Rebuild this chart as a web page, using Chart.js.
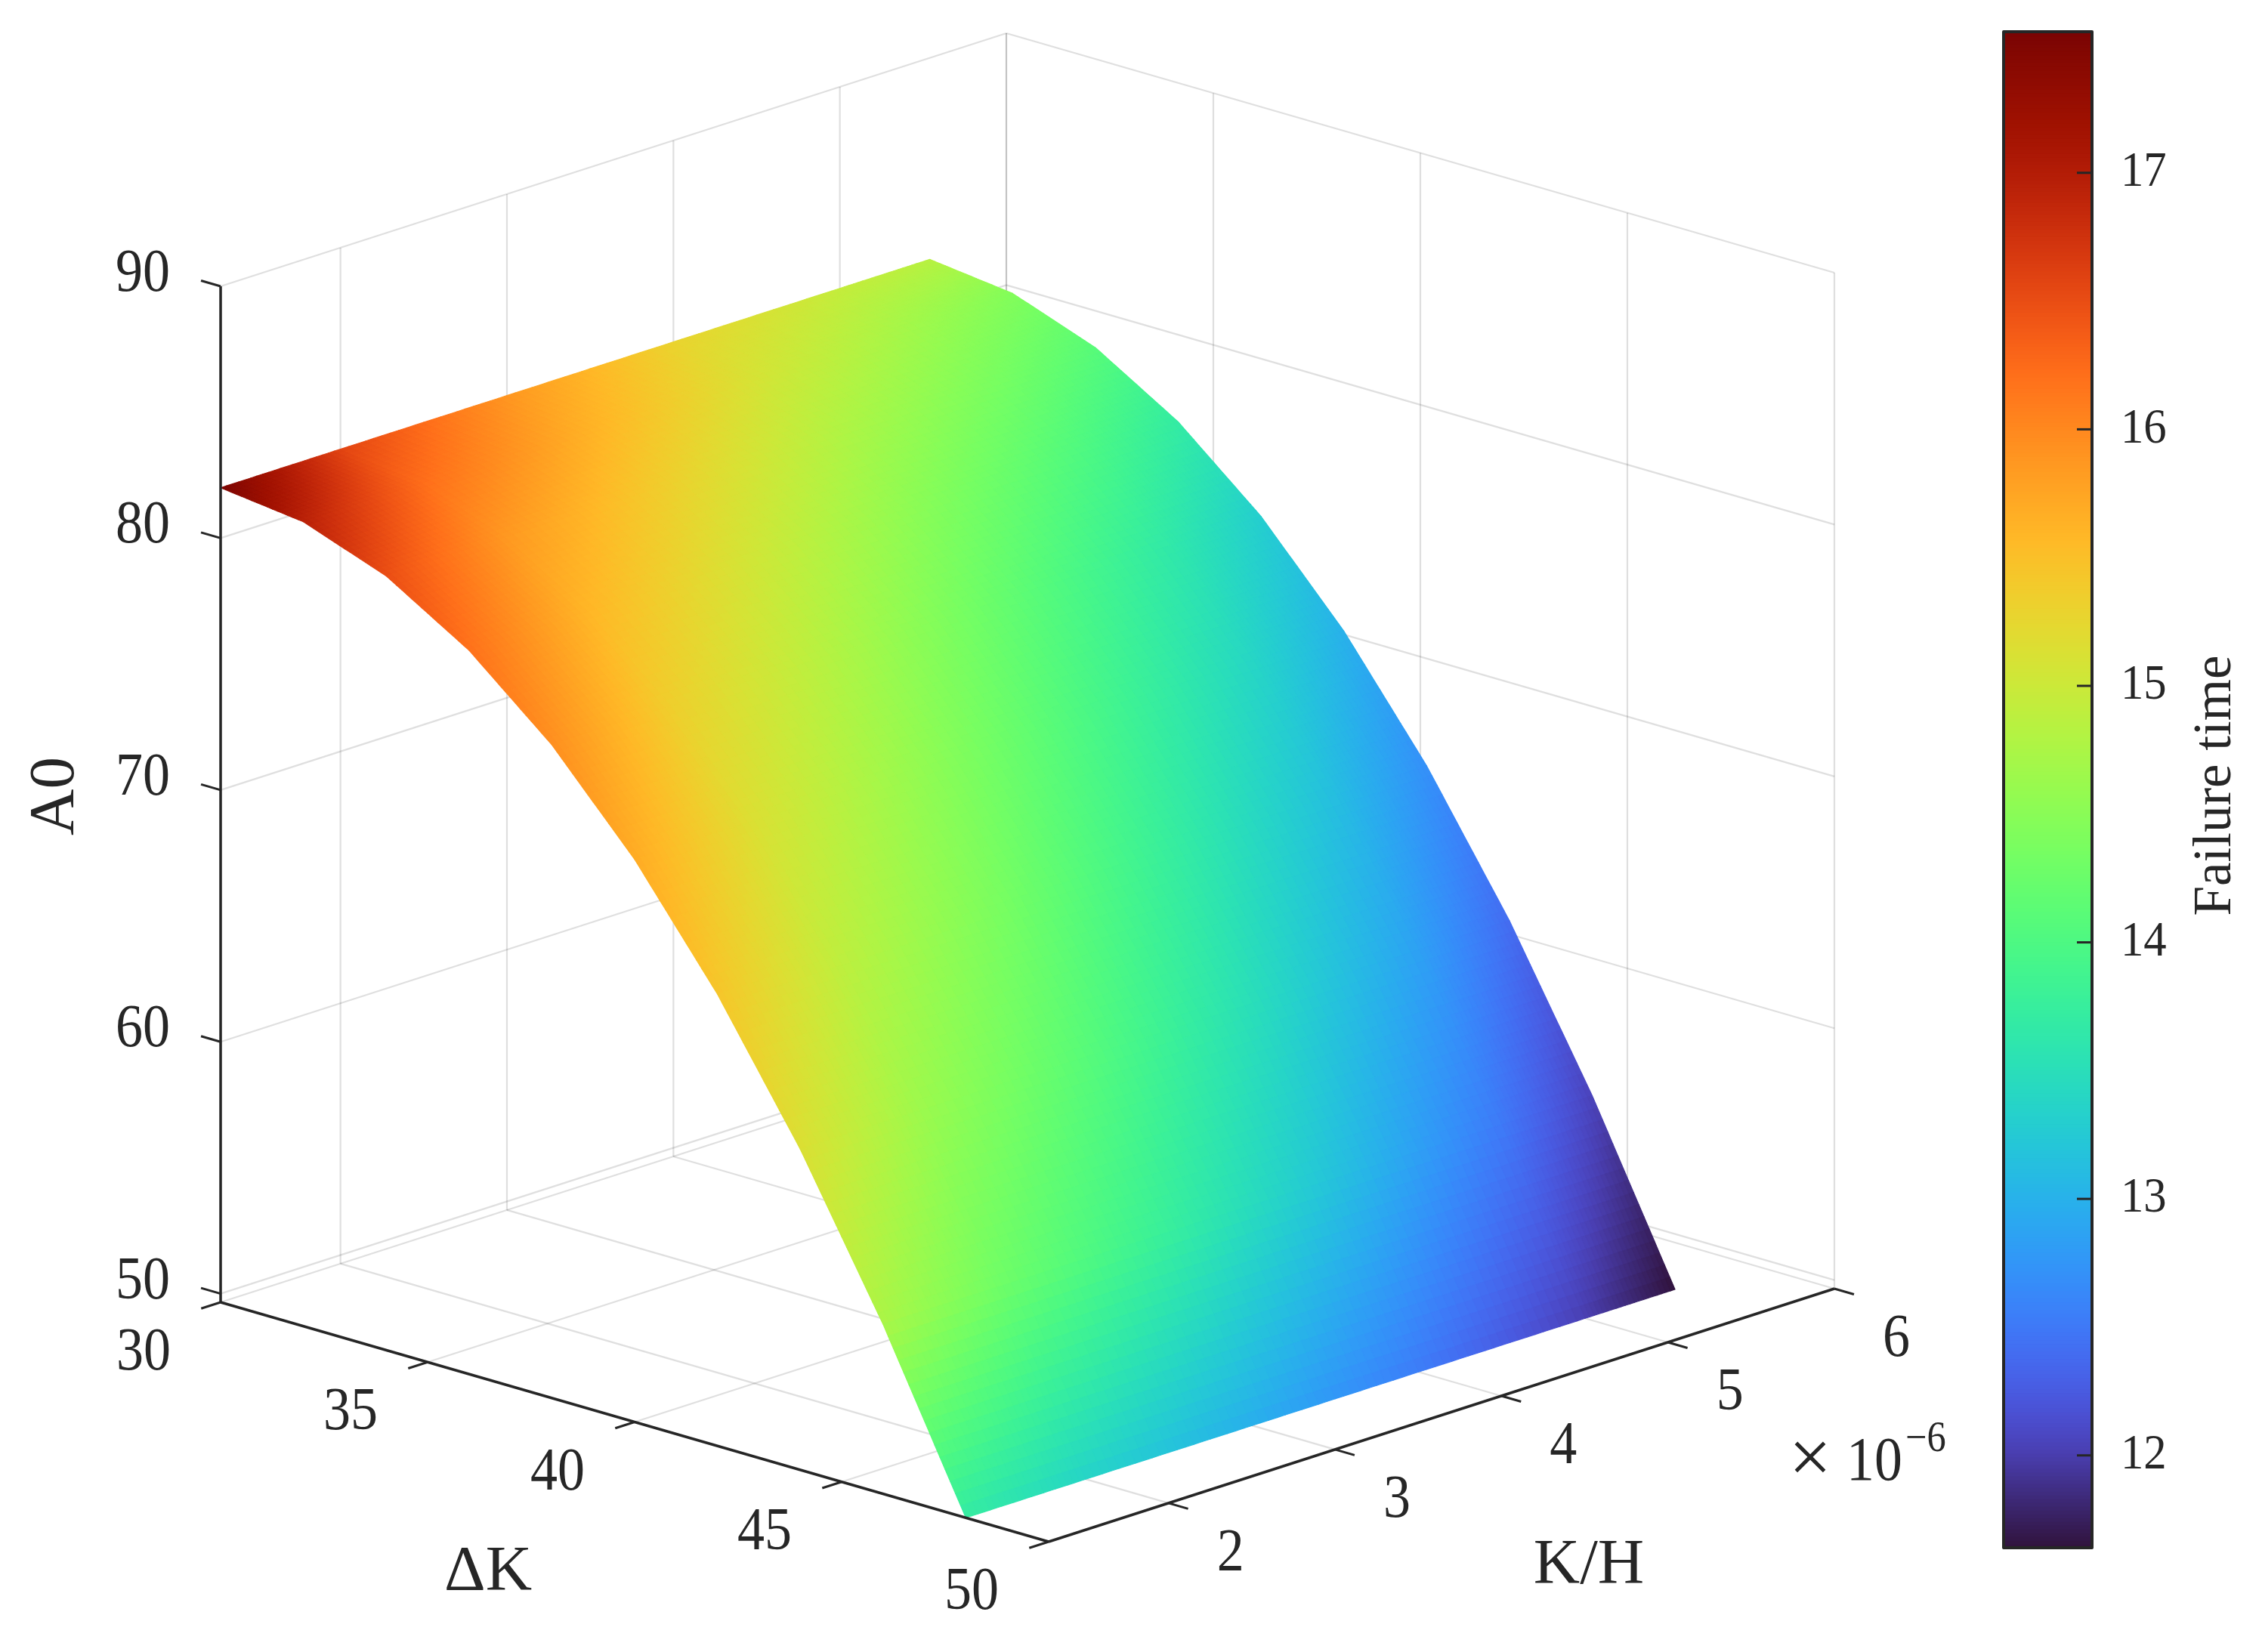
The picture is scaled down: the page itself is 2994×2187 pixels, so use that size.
<!DOCTYPE html>
<html>
<head>
<meta charset="utf-8">
<title>Failure time surface</title>
<script src="https://cdn.jsdelivr.net/npm/chart.js@4.4.1/dist/chart.umd.min.js"></script>
<style>
  html, body { margin: 0; padding: 0; background: #ffffff; }
  canvas { display: block; }
</style>
</head>
<body>
<canvas id="myChart" width="2994" height="2187"></canvas>
<script>
// Dados
const deltaK = [30, 32, 34, 36, 38, 40, 42, 44, 46, 48];
const kh = [1.28, 2, 3, 4, 5, 5.54];            // x 10^-6
const a0 = [82.0, 81.6, 80.4, 78.4, 75.6, 72.0, 67.6, 62.4, 56.4, 49.66];
// failure time, uma linha por valor de deltaK, colunas = kh
const failureTime = [
  [17.55, 16.59, 15.89, 15.30, 14.95, 14.85],
  [16.95, 16.23, 15.64, 15.09, 14.66, 14.45],
  [16.50, 15.87, 15.33, 14.80, 14.35, 14.10],
  [16.20, 15.60, 15.04, 14.50, 14.00, 13.70],
  [15.95, 15.35, 14.79, 14.21, 13.65, 13.30],
  [15.70, 15.14, 14.57, 13.98, 13.39, 13.00],
  [15.45, 14.91, 14.36, 13.75, 13.12, 12.70],
  [15.15, 14.65, 14.10, 13.50, 12.85, 12.40],
  [14.75, 14.29, 13.76, 13.17, 12.51, 12.05],
  [13.70, 13.37, 12.98, 12.53, 12.01, 11.64]
];
const dkTicks = [30, 35, 40, 45, 50];
const khTicks = [2, 3, 4, 5, 6];
const a0Ticks = [50, 60, 70, 80, 90];
const cbTicks = [12, 13, 14, 15, 16, 17];

const dkLim = [30, 50];
const khLim = [1.28, 6];
const a0Lim = [49.66, 90];
const cLim = [11.64, 17.55];

// layout of the 3d box (reference pixels)
const box = {
  origin: [292, 1724],
  ex: [1096, 317],
  ey: [1040, -335],
  ez: [0, -1345]
};
const cbBox = { left: 2652, right: 2769, top: 42, bottom: 2049 };

const ink = '#262626';
const gridColor = 'rgba(38, 38, 38, 0.15)';
const fontFamily = '"Liberation Serif", "Times New Roman", serif';

function turbo(t) {
  t = Math.min(1, Math.max(0, t));
  const poly = x => [
    0.13572138 + x * (4.61539260 + x * (-42.66032258 + x * (132.13108234 + x * (-152.94239396 + x * 59.28637943)))),
    0.09140261 + x * (2.19418839 + x * (4.84296658 + x * (-14.18503333 + x * (4.27729857 + x * 2.82956604)))),
    0.10667330 + x * (12.64194608 + x * (-60.58204836 + x * (110.36276771 + x * (-89.90310912 + x * 27.34824973))))
  ];
  const lo = [0.190, 0.072, 0.232], hi = [0.480, 0.016, 0.011];
  let c;
  if (t < 0.06) {
    const p = poly(0.06), f = t / 0.06;
    c = lo.map((v, i) => v + (p[i] - v) * f);
  } else if (t > 0.94) {
    const p = poly(0.94), f = (t - 0.94) / 0.06;
    c = p.map((v, i) => v + (hi[i] - v) * f);
  } else {
    c = poly(t);
  }
  const ch = c.map(v => Math.round(255 * Math.min(1, Math.max(0, v))));
  return 'rgb(' + ch[0] + ',' + ch[1] + ',' + ch[2] + ')';
}

const surfacePlugin = {
  id: 'surface3d',
  afterDraw(chart) {
    const ctx = chart.ctx;
    const sx = chart.scales.x, sy = chart.scales.y;
    const px = (u, v) => [sx.getPixelForValue(u), sy.getPixelForValue(v)];
    const P = (d, k, z) => {
      const a = (d - dkLim[0]) / (dkLim[1] - dkLim[0]);
      const b = (k - khLim[0]) / (khLim[1] - khLim[0]);
      const c = (z - a0Lim[0]) / (a0Lim[1] - a0Lim[0]);
      return px(box.origin[0] + a * box.ex[0] + b * box.ey[0] + c * box.ez[0],
                box.origin[1] + a * box.ex[1] + b * box.ey[1] + c * box.ez[1]);
    };
    const line = (p, q, color, w) => {
      ctx.beginPath();
      ctx.moveTo(p[0], p[1]);
      ctx.lineTo(q[0], q[1]);
      ctx.strokeStyle = color;
      ctx.lineWidth = w;
      ctx.stroke();
    };
    const text = (str, u, v, o) => {
      const p = px(u, v);
      ctx.save();
      ctx.translate(p[0], p[1]);
      if (o.rot) ctx.rotate(o.rot);
      ctx.scale(o.sq || 1, 1);
      ctx.font = o.size + 'px ' + fontFamily;
      ctx.fillStyle = ink;
      ctx.textAlign = o.align || 'center';
      ctx.textBaseline = o.base || 'middle';
      ctx.fillText(str, 0, 0);
      ctx.restore();
    };
    const unit = (p, q) => {
      const dx = q[0] - p[0], dy = q[1] - p[1], l = Math.hypot(dx, dy);
      return [dx / l, dy / l];
    };

    ctx.save();
    ctx.lineCap = 'butt';

    // grid on the floor and the two back walls
    const zb = a0Lim[0], zt = a0Lim[1];
    dkTicks.forEach(d => {
      line(P(d, khLim[0], zb), P(d, khLim[1], zb), gridColor, 2.2);
      line(P(d, khLim[1], zb), P(d, khLim[1], zt), gridColor, 2.2);
    });
    khTicks.forEach(k => {
      line(P(dkLim[0], k, zb), P(dkLim[1], k, zb), gridColor, 2.2);
      line(P(dkLim[0], k, zb), P(dkLim[0], k, zt), gridColor, 2.2);
    });
    a0Ticks.forEach(z => {
      line(P(dkLim[0], khLim[0], z), P(dkLim[0], khLim[1], z), gridColor, 2.2);
      line(P(dkLim[0], khLim[1], z), P(dkLim[1], khLim[1], z), gridColor, 2.2);
    });

    // surface, shaded by interpolating failure time inside each cell
    const NS = 16, NT = 20;
    ctx.lineWidth = 1.2;
    ctx.lineJoin = 'round';
    for (let i = 0; i < deltaK.length - 1; i++) {
      for (let j = 0; j < kh.length - 1; j++) {
        const d0 = deltaK[i], d1 = deltaK[i + 1], k0 = kh[j], k1 = kh[j + 1];
        const z0 = a0[i], z1 = a0[i + 1];
        const c00 = failureTime[i][j], c01 = failureTime[i][j + 1];
        const c10 = failureTime[i + 1][j], c11 = failureTime[i + 1][j + 1];
        for (let m = 0; m < NS; m++) {
          const s0 = m / NS, s1 = (m + 1) / NS, sm = (m + 0.5) / NS;
          const da = d0 + (d1 - d0) * s0, db = d0 + (d1 - d0) * s1;
          const za = z0 + (z1 - z0) * s0, zc = z0 + (z1 - z0) * s1;
          for (let n = 0; n < NT; n++) {
            const t0 = n / NT, t1 = (n + 1) / NT, tm = (n + 0.5) / NT;
            const ka = k0 + (k1 - k0) * t0, kb = k0 + (k1 - k0) * t1;
            const c = (1 - sm) * (1 - tm) * c00 + (1 - sm) * tm * c01 + sm * (1 - tm) * c10 + sm * tm * c11;
            const col = turbo((c - cLim[0]) / (cLim[1] - cLim[0]));
            const p1 = P(da, ka, za), p2 = P(db, ka, zc), p3 = P(db, kb, zc), p4 = P(da, kb, za);
            ctx.beginPath();
            ctx.moveTo(p1[0], p1[1]);
            ctx.lineTo(p2[0], p2[1]);
            ctx.lineTo(p3[0], p3[1]);
            ctx.lineTo(p4[0], p4[1]);
            ctx.closePath();
            ctx.fillStyle = col;
            ctx.strokeStyle = col;
            ctx.fill();
            ctx.stroke();
          }
        }
      }
    }

    // axis lines and ticks
    const dirDK = unit(P(dkLim[0], khLim[0], zb), P(dkLim[1], khLim[0], zb));
    const dirKH = unit(P(dkLim[0], khLim[0], zb), P(dkLim[0], khLim[1], zb));
    const tickLen = 27;
    line(P(dkLim[0], khLim[0], zb), P(dkLim[0], khLim[0], zt), ink, 3.5);
    line(P(dkLim[0], khLim[0], zb), P(dkLim[1], khLim[0], zb), ink, 3.5);
    line(P(dkLim[1], khLim[0], zb), P(dkLim[1], khLim[1], zb), ink, 3.5);

    a0Ticks.forEach(z => {
      const p = P(dkLim[0], khLim[0], z);
      line(p, [p[0] - dirDK[0] * tickLen, p[1] - dirDK[1] * tickLen], ink, 3);
      text(String(z), sx.getValueForPixel(p[0]) - 67, sy.getValueForPixel(p[1]) - 15, { size: 80, sq: 0.9, align: 'right' });
    });
    dkTicks.forEach(d => {
      const p = P(d, khLim[0], zb);
      line(p, [p[0] - dirKH[0] * tickLen, p[1] - dirKH[1] * tickLen], ink, 3);
      text(String(d), sx.getValueForPixel(p[0]) - 102, sy.getValueForPixel(p[1]) + 68, { size: 80, sq: 0.9 });
    });
    khTicks.forEach(k => {
      const p = P(dkLim[1], k, zb);
      line(p, [p[0] + dirDK[0] * tickLen, p[1] + dirDK[1] * tickLen], ink, 3);
      text(String(k), sx.getValueForPixel(p[0]) + 82, sy.getValueForPixel(p[1]) + 68, { size: 80, sq: 0.9 });
    });

    // exponent of the K/H axis
    text('\u00d7', 2396, 1936, { size: 100 });
    text('10', 2444, 1959, { size: 82, sq: 0.9, align: 'left', base: 'alphabetic' });
    text('\u22126', 2522, 1921, { size: 56, sq: 0.9, align: 'left', base: 'alphabetic' });

    // axis titles
    text('\u0394K', 646, 2083, { size: 85 });
    text('K/H', 2103, 2074, { size: 85 });
    text('A0', 75, 1054, { size: 85, rot: -Math.PI / 2 });

    // colorbar
    const cbV = val => cbBox.bottom - (val - cLim[0]) / (cLim[1] - cLim[0]) * (cbBox.bottom - cbBox.top);
    const steps = 400;
    for (let s = 0; s < steps; s++) {
      const va = cLim[0] + (cLim[1] - cLim[0]) * s / steps;
      const vb = cLim[0] + (cLim[1] - cLim[0]) * (s + 1) / steps;
      const pa = px(cbBox.left, cbV(va)), pb = px(cbBox.right, cbV(vb));
      ctx.fillStyle = turbo(((va + vb) / 2 - cLim[0]) / (cLim[1] - cLim[0]));
      ctx.fillRect(pa[0], pb[1], pb[0] - pa[0], pa[1] - pb[1] + 1);
    }
    const tl = px(cbBox.left, cbBox.top), br = px(cbBox.right, cbBox.bottom);
    ctx.strokeStyle = ink;
    ctx.lineWidth = 4;
    ctx.strokeRect(tl[0], tl[1], br[0] - tl[0], br[1] - tl[1]);
    cbTicks.forEach(t => {
      const p = px(cbBox.right, cbV(t));
      line(p, [p[0] - 20, p[1]], ink, 3);
      text(String(t), 2807, cbV(t), { size: 66, sq: 0.92, align: 'left' });
    });
    text('Failure time', 2933, 1040, { size: 71, rot: -Math.PI / 2 });

    ctx.restore();
  }
};

const config = {
  type: 'scatter',
  data: { datasets: [] },
  options: {
    responsive: false,
    maintainAspectRatio: false,
    animation: false,
    layout: { padding: 0 },
    plugins: {
      legend: { display: false },
      tooltip: { enabled: false }
    },
    scales: {
      x: { type: 'linear', min: 0, max: 2994, display: false },
      y: { type: 'linear', min: 0, max: 2187, reverse: true, display: false }
    }
  },
  plugins: [surfacePlugin]
};

const ctx = document.getElementById('myChart');
const myChart = new Chart(ctx, config);
</script>
</body>
</html>
